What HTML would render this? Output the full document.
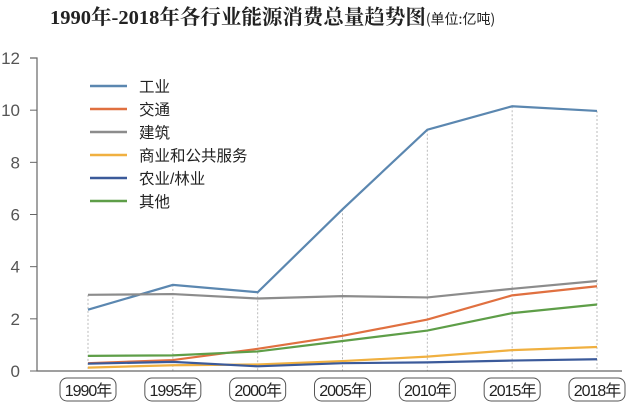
<!DOCTYPE html>
<html><head><meta charset="utf-8"><style>
body{margin:0;background:#fff;width:633px;height:405px;overflow:hidden;font-family:"Liberation Sans","Noto Sans CJK SC",sans-serif}
</style></head><body>
<svg id="c" width="633" height="405" font-family="Liberation Sans, Noto Sans CJK SC, sans-serif">
<text x="50" y="24" font-family="Liberation Serif, Noto Serif CJK SC, serif" font-weight="bold" font-size="20.5" fill="#222">1990年-2018年各行业能源消费总量趋势图<tspan font-size="14" font-weight="normal" font-family="Noto Sans CJK SC, sans-serif">(单位:亿吨)</tspan></text>
<g id="grid"></g><g id="axes"></g><g id="series"></g><g id="legend"></g>
</svg>
<script>
const categories=["1990年","1995年","2000年","2005年","2010年","2015年","2018年"];
const names=["工业","交通","建筑","商业和公共服务","农业/林业","其他"];
const industry=[2.35,3.3,3.02,6.2,9.25,10.15,9.97];
const transport=[0.3,0.42,0.85,1.35,1.97,2.9,3.25];
const construction=[2.92,2.95,2.78,2.87,2.82,3.15,3.45];
const commercial=[0.13,0.22,0.25,0.38,0.55,0.8,0.92];
const agriculture=[0.28,0.35,0.18,0.3,0.33,0.4,0.45];
const other=[0.58,0.6,0.75,1.15,1.55,2.22,2.55];
const yTicks=[0,2,4,6,8,10,12];
const series=[industry,transport,construction,commercial,agriculture,other];
const colors=["#5b87b0","#e07040","#8c8c8c","#f0b040","#3b5a9a","#5e9e48"];
const NS="http://www.w3.org/2000/svg";
const x=i=>88+i*(597-88)/(categories.length-1);
const y=v=>371-v*(371-58)/12;
function mk(t,a,p){const e=document.createElementNS(NS,t);for(const k in a)e.setAttribute(k,a[k]);p.appendChild(e);return e;}
const G=document.getElementById('grid'),A=document.getElementById('axes'),S=document.getElementById('series'),L=document.getElementById('legend');
categories.forEach((c,i)=>{
 const top=Math.max(...series.map(s=>s[i]));
 const g=mk('line',{x1:x(i),x2:x(i),y1:y(top),y2:371,stroke:'#bbb','stroke-dasharray':'2,2','stroke-width':1},G);
 
 
 const r=mk('rect',{x:x(i)-28,y:378,width:56,height:23,rx:7,fill:'#fff',stroke:'#555','stroke-width':1},A);
 
 
 const t=mk('text',{x:x(i),y:396,'text-anchor':'middle','font-size':16,fill:'#222','letter-spacing':'-1'},A);
 t.textContent=c;
 
 
});
const ax=mk('path',{d:'M30 '+y(12)+' H37 V371 H622',fill:'none',stroke:'#666','stroke-width':1.2},A);


yTicks.forEach(v=>{
 const tk=mk('line',{x1:30,x2:37,y1:y(v),y2:y(v),stroke:'#666'},A);
 
 
 const t=mk('text',{x:20,y:y(v)+6,'text-anchor':'end','font-size':17,fill:'#555'},A);
 t.textContent=v;
 
 
});
series.forEach((s,k)=>{
 const p=mk('polyline',{points:s.map((v,i)=>x(i)+','+y(v)).join(' '),fill:'none',stroke:colors[k],'stroke-width':2.2},S);
 
 
});
const ly=[86,109,132,155,178,201];
names.forEach((n,k)=>{
 const l=mk('line',{x1:90,x2:127,y1:ly[k],y2:ly[k],stroke:colors[k],'stroke-width':2.5},L);
 
 
 const t=mk('text',{x:139,y:ly[k]+6,'font-size':15.5,fill:'#222'},L);
 t.textContent=n;
 
 
});
</script>
</body></html>
